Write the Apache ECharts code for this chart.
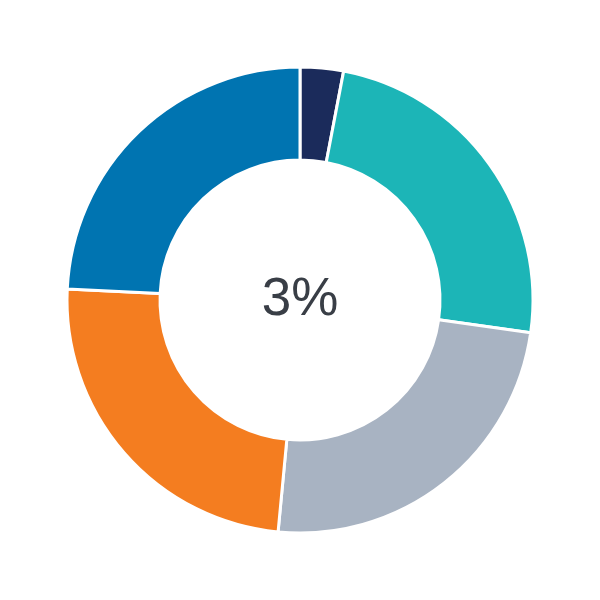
<!DOCTYPE html>
<html>
<head>
<meta charset="utf-8">
<script src="https://cdn.jsdelivr.net/npm/echarts@6/dist/echarts.min.js"></script>
<style>
  html, body { margin: 0; padding: 0; background: #fff; }
  #chart { width: 600px; height: 600px; }
</style>
</head>
<body>
<div id="chart"></div>
<script>
var names = ['A', 'B', 'C', 'D', 'E'];
var values = [3, 24.25, 24.25, 24.25, 24.25];
var colors = ['#1b2b5b', '#1cb5b7', '#a8b3c2', '#f47d20', '#0074b1'];
var centerText = '3%';

var myChart = echarts.init(document.getElementById('chart'));

var data = names.map(function (n, i) {
    return { name: n, value: values[i], itemStyle: { color: colors[i] } };
});

var option = {
    animation: false,
    title: {
        text: centerText,
        left: 'center',
        top: 'middle',
        textStyle: {
            fontFamily: 'Liberation Sans, Arial, sans-serif',
            fontSize: 53,
            fontWeight: 'normal',
            color: '#393e46'
        }
    },
    series: [{
        type: 'pie',
        radius: [140, 233],
        center: ['50%', '50%'],
        startAngle: 90,
        clockwise: true,
        label: { show: false },
        labelLine: { show: false },
        itemStyle: {
            borderColor: '#fff',
            borderWidth: 3
        },
        emphasis: { disabled: true },
        data: data
    }]
};

myChart.setOption(option);
</script>
</body>
</html>
